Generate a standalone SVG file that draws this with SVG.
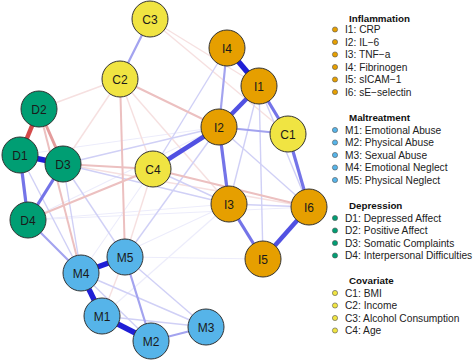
<svg xmlns="http://www.w3.org/2000/svg" width="474" height="362" viewBox="0 0 474 362">
<style>
.e{fill:none;stroke-linecap:butt}
.b1{stroke:#1f1fd6;stroke-width:5.5}
.b2{stroke:#5151e2;stroke-width:4.5}
.b3{stroke:#7474e8;stroke-width:3.2}
.b4{stroke:#a3a3ef;stroke-width:2.2}
.b5{stroke:#d0d0f6;stroke-width:1.4}
.b6{stroke:#ececfb;stroke-width:1.1}
.r1{stroke:#d44a4a;stroke-width:4.5}
.r2{stroke:#e49c9c;stroke-width:3}
.r3{stroke:#ecc0c0;stroke-width:2}
.r4{stroke:#f6e0e0;stroke-width:1.4}
.n circle{stroke:#333;stroke-width:1}
.n text{font-family:"Liberation Sans",Arial,sans-serif;font-size:12px;fill:#1a1a1a;text-anchor:middle}
.I circle{fill:#E69F00}
.M circle{fill:#56B4E9}
.D circle{fill:#009E73}
.C circle{fill:#F0E442}
.lh{font-family:"Liberation Sans",Arial,sans-serif;font-size:9.8px;font-weight:bold;fill:#111}
.li{font-family:"Liberation Sans",Arial,sans-serif;font-size:10.2px;fill:#222}
.ld{stroke:#555;stroke-width:0.6}
</style>
<g id="connectors">
<line class="e b6" x1="28" y1="220" x2="229" y2="204"/>
<line class="e b6" x1="28" y1="220" x2="309" y2="207"/>
<line class="e b6" x1="81" y1="273" x2="229" y2="204"/>
<line class="e b6" x1="102" y1="316" x2="229" y2="204"/>
<line class="e b6" x1="20" y1="155" x2="219" y2="127"/>
<line class="e b6" x1="28" y1="220" x2="219" y2="127"/>
<line class="e b6" x1="125" y1="257" x2="263" y2="259"/>
<line class="e b6" x1="153" y1="169" x2="81" y2="273"/>
<line class="e r4" x1="120" y1="79" x2="39" y2="109"/>
<line class="e r4" x1="120" y1="79" x2="63" y2="164"/>
<line class="e r4" x1="120" y1="79" x2="153" y2="169"/>
<line class="e r4" x1="120" y1="79" x2="229" y2="204"/>
<line class="e r4" x1="150" y1="19" x2="288" y2="134"/>
<line class="e r4" x1="150" y1="19" x2="259" y2="86"/>
<line class="e r4" x1="102" y1="316" x2="125" y2="257"/>
<line class="e r4" x1="229" y1="204" x2="263" y2="259"/>
<line class="e r4" x1="63" y1="164" x2="309" y2="207"/>
<line class="e r4" x1="153" y1="169" x2="125" y2="257"/>
<line class="e b5" x1="259" y1="86" x2="229" y2="204"/>
<line class="e b5" x1="259" y1="86" x2="263" y2="259"/>
<line class="e b5" x1="259" y1="86" x2="309" y2="207"/>
<line class="e b5" x1="219" y1="127" x2="309" y2="207"/>
<line class="e b5" x1="229" y1="204" x2="309" y2="207"/>
<line class="e b5" x1="227" y1="48" x2="153" y2="169"/>
<line class="e b5" x1="63" y1="164" x2="219" y2="127"/>
<line class="e b5" x1="63" y1="164" x2="229" y2="204"/>
<line class="e b5" x1="153" y1="169" x2="229" y2="204"/>
<line class="e b5" x1="125" y1="257" x2="219" y2="127"/>
<line class="e b5" x1="102" y1="316" x2="206" y2="327"/>
<line class="e b5" x1="81" y1="273" x2="206" y2="327"/>
<line class="e b5" x1="125" y1="257" x2="206" y2="327"/>
<line class="e b5" x1="81" y1="273" x2="151" y2="341"/>
<line class="e b5" x1="63" y1="164" x2="125" y2="257"/>
<line class="e b5" x1="63" y1="164" x2="81" y2="273"/>
<line class="e b5" x1="20" y1="155" x2="81" y2="273"/>
<line class="e r3" x1="39" y1="109" x2="81" y2="273"/>
<line class="e r3" x1="63" y1="164" x2="153" y2="169"/>
<line class="e r3" x1="120" y1="79" x2="219" y2="127"/>
<line class="e r3" x1="153" y1="169" x2="309" y2="207"/>
<line class="e r3" x1="28" y1="220" x2="153" y2="169"/>
<line class="e r3" x1="120" y1="79" x2="125" y2="257"/>
<line class="e b4" x1="227" y1="48" x2="219" y2="127"/>
<line class="e b4" x1="28" y1="220" x2="81" y2="273"/>
<line class="e b4" x1="150" y1="19" x2="120" y2="79"/>
<line class="e b4" x1="151" y1="341" x2="206" y2="327"/>
<line class="e b4" x1="219" y1="127" x2="288" y2="134"/>
<line class="e b4" x1="125" y1="257" x2="151" y2="341"/>
<line class="e r2" x1="39" y1="109" x2="63" y2="164"/>
<line class="e b3" x1="259" y1="86" x2="288" y2="134"/>
<line class="e b3" x1="219" y1="127" x2="229" y2="204"/>
<line class="e b3" x1="288" y1="134" x2="309" y2="207"/>
<line class="e b3" x1="229" y1="204" x2="263" y2="259"/>
<line class="e b3" x1="63" y1="164" x2="28" y2="220"/>
<line class="e b3" x1="20" y1="155" x2="28" y2="220"/>
<line class="e b2" x1="259" y1="86" x2="219" y2="127"/>
<line class="e b2" x1="153" y1="169" x2="219" y2="127"/>
<line class="e b2" x1="309" y1="207" x2="263" y2="259"/>
<line class="e r1" x1="39" y1="109" x2="20" y2="155"/>
<line class="e b1" x1="227" y1="48" x2="259" y2="86"/>
<line class="e b1" x1="20" y1="155" x2="63" y2="164"/>
<line class="e b1" x1="81" y1="273" x2="125" y2="257"/>
<line class="e b1" x1="81" y1="273" x2="102" y2="316"/>
<line class="e b1" x1="102" y1="316" x2="151" y2="341"/>
</g>
<g id="node-C3" class="n C"><circle cx="150" cy="19" r="18"/><text x="150" y="23.5">C3</text></g>
<g id="node-C2" class="n C"><circle cx="120" cy="79" r="18"/><text x="120" y="83.5">C2</text></g>
<g id="node-C4" class="n C"><circle cx="153" cy="169" r="18"/><text x="153" y="173.5">C4</text></g>
<g id="node-C1" class="n C"><circle cx="288" cy="134" r="18"/><text x="288" y="138.5">C1</text></g>
<g id="node-I4" class="n I"><circle cx="227" cy="48" r="18"/><text x="227" y="52.5">I4</text></g>
<g id="node-I1" class="n I"><circle cx="259" cy="86" r="18"/><text x="259" y="90.5">I1</text></g>
<g id="node-I2" class="n I"><circle cx="219" cy="127" r="18"/><text x="219" y="131.5">I2</text></g>
<g id="node-I3" class="n I"><circle cx="229" cy="204" r="18"/><text x="229" y="208.5">I3</text></g>
<g id="node-I6" class="n I"><circle cx="309" cy="207" r="18"/><text x="309" y="211.5">I6</text></g>
<g id="node-I5" class="n I"><circle cx="263" cy="259" r="18"/><text x="263" y="263.5">I5</text></g>
<g id="node-D2" class="n D"><circle cx="39" cy="109" r="18"/><text x="39" y="113.5">D2</text></g>
<g id="node-D1" class="n D"><circle cx="20" cy="155" r="18"/><text x="20" y="159.5">D1</text></g>
<g id="node-D3" class="n D"><circle cx="63" cy="164" r="18"/><text x="63" y="168.5">D3</text></g>
<g id="node-D4" class="n D"><circle cx="28" cy="220" r="18"/><text x="28" y="224.5">D4</text></g>
<g id="node-M5" class="n M"><circle cx="125" cy="257" r="18"/><text x="125" y="261.5">M5</text></g>
<g id="node-M4" class="n M"><circle cx="81" cy="273" r="18"/><text x="81" y="277.5">M4</text></g>
<g id="node-M1" class="n M"><circle cx="102" cy="316" r="18"/><text x="102" y="320.5">M1</text></g>
<g id="node-M2" class="n M"><circle cx="151" cy="341" r="18"/><text x="151" y="345.5">M2</text></g>
<g id="node-M3" class="n M"><circle cx="206" cy="327" r="18"/><text x="206" y="331.5">M3</text></g>
<g id="legend">
<text class="lh" x="349" y="21.5">Inflammation</text>
<g fill="#E69F00" class="ld">
<circle cx="335" cy="29.5" r="2.6"/><circle cx="335" cy="42" r="2.6"/><circle cx="335" cy="54.5" r="2.6"/><circle cx="335" cy="67" r="2.6"/><circle cx="335" cy="79.5" r="2.6"/><circle cx="335" cy="92" r="2.6"/>
</g>
<text class="li" x="345" y="33">I1: CRP</text>
<text class="li" x="345" y="45.5">I2: IL−6</text>
<text class="li" x="345" y="58">I3: TNF−a</text>
<text class="li" x="345" y="70.5">I4: Fibrinogen</text>
<text class="li" x="345" y="83">I5: sICAM−1</text>
<text class="li" x="345" y="95.5">I6: sE−selectin</text>
<text class="lh" x="349" y="121">Maltreatment</text>
<g fill="#56B4E9" class="ld">
<circle cx="335" cy="130" r="2.6"/><circle cx="335" cy="142.5" r="2.6"/><circle cx="335" cy="155" r="2.6"/><circle cx="335" cy="167.5" r="2.6"/><circle cx="335" cy="180" r="2.6"/>
</g>
<text class="li" x="345" y="133.5">M1: Emotional Abuse</text>
<text class="li" x="345" y="146">M2: Physical Abuse</text>
<text class="li" x="345" y="158.5">M3: Sexual Abuse</text>
<text class="li" x="345" y="171">M4: Emotional Neglect</text>
<text class="li" x="345" y="183.5">M5: Physical Neglect</text>
<text class="lh" x="349" y="209">Depression</text>
<g fill="#009E73" class="ld">
<circle cx="335" cy="218" r="2.6"/><circle cx="335" cy="230.5" r="2.6"/><circle cx="335" cy="243" r="2.6"/><circle cx="335" cy="255.5" r="2.6"/>
</g>
<text class="li" x="345" y="221.5">D1: Depressed Affect</text>
<text class="li" x="345" y="234">D2: Positive Affect</text>
<text class="li" x="345" y="246.5">D3: Somatic Complaints</text>
<text class="li" x="345" y="259">D4: Interpersonal Difficulties</text>
<text class="lh" x="349" y="284">Covariate</text>
<g fill="#F0E442" class="ld">
<circle cx="335" cy="293" r="2.6"/><circle cx="335" cy="305.5" r="2.6"/><circle cx="335" cy="318" r="2.6"/><circle cx="335" cy="330.5" r="2.6"/>
</g>
<text class="li" x="345" y="296.5">C1: BMI</text>
<text class="li" x="345" y="309">C2: Income</text>
<text class="li" x="345" y="321.5">C3: Alcohol Consumption</text>
<text class="li" x="345" y="334">C4: Age</text>
</g>
</svg>
